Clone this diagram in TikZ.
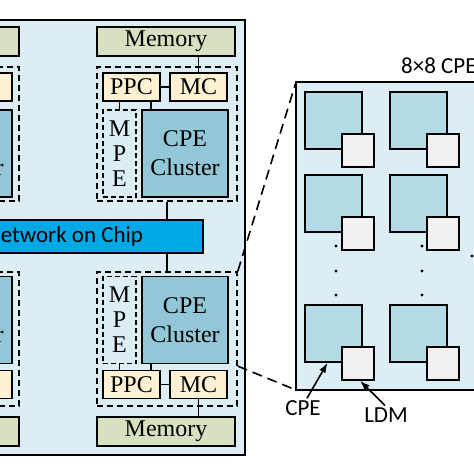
\documentclass[tikz,border=0pt]{standalone}
\usepackage{fontspec}
\setmainfont{Liberation Serif}
\newfontfamily\calibri{Carlito}
\usepackage{xcolor}
\usetikzlibrary{arrows.meta,calc}
\definecolor{ChipBg}{HTML}{DCEDF4}
\definecolor{MemGreen}{HTML}{D7E1C2}
\definecolor{CtrlCream}{HTML}{FCF1D3}
\definecolor{ClusterTeal}{HTML}{92C7D7}
\definecolor{NocBlue}{HTML}{00A9E6}
\definecolor{CellBlue}{HTML}{B4DAE6}
\definecolor{LdmGrey}{HTML}{F1F1F1}
\newcommand{\serifbig}{\fontsize{24}{24}\selectfont}
\newcommand{\sansbig}{\calibri\fontsize{23}{23}\selectfont}

\tikzset{
  blk/.style={draw=black,line width=1.6pt,inner sep=0pt,font=\serifbig},
  mem/.style={blk,fill=MemGreen,minimum width=138pt,minimum height=29pt},
  ctrl/.style={blk,fill=CtrlCream,minimum width=57pt,minimum height=28pt},
  cluster/.style={blk,fill=ClusterTeal,minimum width=86pt,minimum height=87pt,
    align=center,font=\fontsize{24}{29}\selectfont},
  mpe/.style={blk,fill=ChipBg,dash pattern=on 5pt off 3pt,minimum width=33pt,
    minimum height=87pt,align=center,font=\fontsize{24}{25}\selectfont},
  grp/.style={draw=black,line width=1.6pt,dash pattern=on 6pt off 4pt,
    minimum width=140pt,minimum height=134pt},
  wire/.style={line width=1.6pt},
  cell/.style={draw=black,line width=1.6pt,fill=CellBlue,minimum size=57pt},
  ldm/.style={draw=black,line width=1.6pt,fill=LdmGrey,minimum width=32pt,minimum height=33pt},
  zoomln/.style={line width=1.6pt,dash pattern=on 10pt off 6pt},
  ptr/.style={line width=1.6pt,-{Latex[length=10pt,width=7pt]}}
}

\begin{document}
\begin{tikzpicture}[x=1pt,y=-1pt]
  \clip (0,0) rectangle (474,474);
  \fill[white] (0,0) rectangle (474,474);

  % chip
  \draw[line width=1.6pt,fill=ChipBg] (-140,20) rectangle (245,455);

  % left column, cut by the edge
  \node[mem] (memLT) at (-50,41.5) {};
  \node[grp] (grpLT) at (-51,134) {};
  \node[ctrl] (mcLT) at (-16.5,87) {};
  \node[cluster] (clLT) at (-31,153.5) {CPE\\Cluster};
  \node[grp] (grpLB) at (-51,339) {};
  \node[cluster] (clLB) at (-31,320) {CPE\\Cluster};
  \node[ctrl] (mcLB) at (-16.5,384.5) {};
  \node[mem] (memLB) at (-50,431.5) {};

  % upper core group
  \node[mem] (memT) at (166,41.5) {Memory};
  \node[grp] (grpT) at (167,134) {};
  \node[ctrl] (ppcT) at (131.5,87) {PPC};
  \node[ctrl] (mcT) at (198.5,87) {MC};
  \node[mpe] (mpeT) at (119.5,153.5) {M\\P\\E};
  \node[cluster] (clT) at (185,153.5) {CPE\\Cluster};
  \draw[wire] (mcT.north) -- (mcT.north |- memT.south);
  \draw[wire] (ppcT.east) -- (mcT.west);
  \draw[wire] (mpeT.north) -- (mpeT.north |- ppcT.south);
  \draw[wire] ([xshift=-34pt]clT.north) -- ([xshift=-34pt]clT.north |- ppcT.south);

  % network on chip
  \node[blk,fill=NocBlue,minimum width=277pt,minimum height=33pt,font=\sansbig]
    (noc) at (64.5,236.5) {Network on Chip};
  \draw[wire] (grpT.south) -- (grpT.south |- noc.north);

  % lower core group
  \node[grp] (grpB) at (167,339) {};
  \node[mpe] (mpeB) at (119.5,320) {M\\P\\E};
  \node[cluster] (clB) at (185,320) {CPE\\Cluster};
  \node[ctrl] (ppcB) at (131.5,384.5) {PPC};
  \node[ctrl] (mcB) at (198.5,384.5) {MC};
  \node[mem] (memB) at (166,431.5) {Memory};
  \draw[wire] (grpB.north) -- (grpB.north |- noc.south);
  \draw[wire] (ppcB.east) -- (mcB.west);
  \draw[wire] (mpeB.south) -- (mpeB.south |- ppcB.north);
  \draw[wire] ([xshift=-34pt]clB.south) -- ([xshift=-34pt]clB.south |- ppcB.north);
  \draw[wire] (mcB.south) -- (mcB.south |- memB.north);

  % 8x8 CPE array
  \coordinate (pnw) at (296,82);
  \coordinate (psw) at (296,390);
  \draw[line width=1.6pt,fill=ChipBg] (pnw) rectangle (540,390);
  \node[anchor=base west,inner sep=0pt,font=\sansbig] (title) at (401,73) {8×8 CPE};
  \foreach \cx/\col in {305/1,390/2}
    \foreach \cy/\row in {92/1,175/2,305/3} {
      \node[cell] (c\row\col) at (\cx+28.5,\cy+28.5) {};
      \node[ldm] (l\row\col) at (\cx+53,\cy+58.5) {};
    }
  \foreach \dx in {336,422}
    \foreach \dy in {246,271,295}
      \fill (\dx,\dy) circle (1.6pt);
  \fill (472,256) circle (1.6pt);

  % zoom lines
  \draw[zoomln] (grpB.north east) -- (pnw);
  \draw[zoomln] ($(grpB.north east)!0.7!(grpB.south east)$) -- (psw);

  % labels
  \node[font=\sansbig,inner sep=2pt] (lcpe) at (303,408) {CPE};
  \node[font=\sansbig,inner sep=2pt] (lldm) at (386,415) {LDM};
  \draw[ptr] ([xshift=4pt]lcpe.north) -- ([xshift=-6pt]c31.south);
  \draw[ptr] ([xshift=-1pt]lldm.north) -- ([xshift=2pt]l31.south);
\end{tikzpicture}
\end{document}
